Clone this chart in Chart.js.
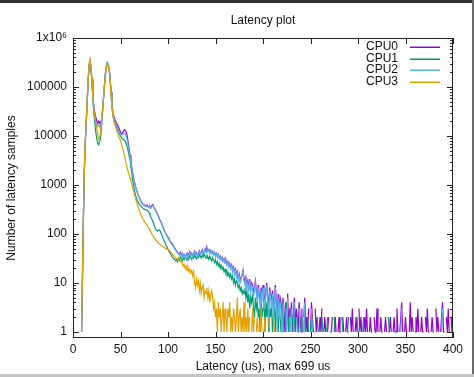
<!DOCTYPE html>
<html>
<head>
<meta charset="utf-8">
<script src="https://cdn.jsdelivr.net/npm/chart.js@4.4.1/dist/chart.umd.min.js"></script>
<style>
  html, body { margin: 0; padding: 0; background: #fff; }
  #wrap { position: relative; width: 474px; height: 377px; overflow: hidden; }
  #topbar { position: absolute; left: 0; top: 0; width: 474px; height: 3px; background: #2e2e2e; }
  #rightline { position: absolute; left: 472px; top: 0; width: 2px; height: 377px; background: #6a6a6a; }
  #bottombar { position: absolute; left: 0; top: 374px; width: 474px; height: 3px; background: #c4c4c4; }
</style>
</head>
<body>
<div id="wrap">
  <canvas id="latencyChart" width="474" height="377"></canvas>
  <div id="topbar"></div>
  <div id="rightline"></div>
  <div id="bottombar"></div>
</div>
<script>
// Số mẫu theo từng bin 1 us (chỉ số = độ trễ, 0..400 us)
const cpu0 = [
  0,0,0,0,0,0,0,0,0,1, 15,250,2200,8000,20000,55000,140000,280000,340000,240000,
  140000,65000,40000,30000,24000,20000,18000,20000,19000,17000, 22000,33000,55000,100000,170000,250000,300000,280000,230000,160000,
  80000,45000,30000,25000,22000,20000,18000,16500,15000,13500, 12000,11000,11500,12500,13500,13000,12000,10000,7500,5500,
  4000,3000,2200,1700,1350,1100,900,780,680,600, 540,490,450,420,400,390,380,370,390,360,
  350,370,340,380,400,350,330,300,280,250, 230,200,185,170,150,135,120,110,100,92,
  85,78,72,68,65,60,55,52,48,45, 42,40,38,42,36,40,35,38,33,36,
  40,34,38,43,37,40,35,39,44,38, 41,36,40,45,39,42,47,40,44,50,
  43,52,45,48,41,46,40,44,38,42, 36,40,34,38,32,35,30,33,28,31,
  26,29,24,27,22,25,20,23,18,21, 16,19,14,17,12,15,11,13,14,18,
  12,10,13,9,11,8,12,7,10,9, 6,8,11,7,5,9,6,4,8,5,
  9,6,4,7,10,5,3,8,6,4, 7,3,5,9,4,2,6,3,5,4,
  2,5,3,1,4,2,6,1,3,2, 4,1,2,5,1,3,2,1,4,2,
  1,3,0,2,5,1,2,1,3,0, 1,4,2,1,0,3,1,2,0,1,
  2,1,3,0,1,2,1,0,1,2, 0,1,1,2,0,1,2,1,0,1,
  2,1,1,0,2,1,0,1,2,1, 1,0,2,1,3,1,0,1,2,1,
  0,3,1,2,1,0,1,2,1,3, 1,0,1,2,1,1,0,2,1,1,
  3,1,0,1,2,1,1,0,1,2, 1,0,1,1,2,1,0,1,2,1,
  1,3,1,0,1,2,4,1,0,1, 2,1,1,0,1,4,1,2,1,0,
  1,2,1,3,1,0,1,2,1,1, 0,2,1,3,1,1,0,1,2,1,
  1,0,3,1,2,1,0,1,2,4, 1,1,0,2,1,3,1,0,2,1,
  5
];
const cpu1 = [
  0,0,0,0,0,0,0,0,0,1, 12,220,2000,7500,19000,52000,135000,270000,330000,220000,
  120000,50000,28000,18000,12000,9000,7000,6600,7500,9000, 15000,28000,52000,100000,180000,260000,310000,290000,240000,160000,
  75000,40000,26000,21000,18000,16000,14500,13000,12000,11000, 10000,9200,8800,8500,8200,7800,7000,6000,5000,4000,
  3200,2300,1700,1200,900,720,600,520,470,430, 400,380,360,340,330,320,315,310,305,290,
  270,250,220,200,180,160,140,125,120,115, 118,120,112,100,90,80,72,65,58,54,
  48,44,41,38,35,33,31,30,28,30, 27,32,29,34,31,28,33,30,35,32,
  29,34,31,36,33,30,35,32,37,34, 31,36,33,38,35,32,37,34,39,35,
  32,37,34,30,35,31,28,33,29,26, 30,24,27,22,25,20,23,19,21,17,
  19,16,18,14,16,13,15,12,14,10, 12,9,11,10,8,9,7,8,6,7,
  6,8,5,7,4,6,3,5,4,6, 3,2,5,3,4,2,3,1,4,2,
  3,5,1,4,2,6,1,3,2,4, 1,2,5,1,3,2,1,4,2,1,
  3,1,2,0,1,4,2,1,3,1, 0,2,1,3,1,0,2,1,1,0,
  2,1,0,1,3,1,0,2,1,0, 1,2,1,0,1,1,0,2,1,0,
  1,0,2,1,0,1,0,1,2,0, 1,0,0,1,0,2,1,0,0,1,
  0,1,0,2,1,0,0,1,0,1, 2,0,1,0,0,1,0,1,0,2,
  1,0,0,1,0,1,2,0,1,0, 0,1,0,1,0,2,0,0,1,0,
  1,0,2,0,1,0,0,1,0,1, 0,0,2,1,0,1,0,0,1,0,
  2,0,1,0,0,1,0,2,0,1, 0,1,0,0,1,0,2,0,1,0,
  0,1,0,1,0,0,2,0,1,0, 1,0,0,1,0,1,0,2,0,0,
  1,0,1,0,0,2,0,1,0,0, 1,0,1,0,0,1,0,0,1,0,
  0
];
const cpu2 = [
  0,0,0,0,0,0,0,0,0,1, 14,240,2100,7800,19500,54000,138000,275000,335000,230000,
  130000,60000,35000,25000,19000,16000,15500,17000,16000,14000, 19000,30000,54000,105000,185000,265000,320000,295000,245000,165000,
  78000,42000,28000,23000,20000,18000,16000,14500,13000,12000, 11000,10500,10500,11000,11500,11000,10000,8500,6500,5000,
  3700,2800,2100,1600,1300,1050,870,760,660,590, 530,480,440,410,395,380,370,360,375,355,
  345,360,335,370,385,340,320,295,270,245, 225,200,180,165,148,132,118,108,98,90,
  83,76,70,66,62,58,54,50,47,44, 41,39,37,40,35,39,34,37,32,35,
  38,33,37,41,36,39,34,38,42,37, 40,35,39,44,38,41,45,39,43,48,
  42,49,44,47,40,45,39,43,37,41, 35,39,33,37,31,34,29,32,27,30,
  25,28,23,26,21,24,19,22,17,20, 15,18,13,16,11,14,10,12,15,17,
  11,9,12,8,10,7,11,6,9,8, 5,7,10,6,4,8,5,3,7,4,
  8,5,3,6,9,4,2,7,5,3, 6,2,4,8,3,1,5,2,4,3,
  1,4,2,0,3,1,5,0,2,1, 3,0,1,4,0,2,1,0,3,1,
  0,2,0,1,4,0,1,0,2,0, 0,3,1,0,0,2,0,1,0,0,
  1,0,2,0,0,1,0,0,0,1, 0,0,1,1,0,0,1,0,0,0,
  1,0,0,0,1,0,0,0,1,0, 0,0,1,0,2,0,0,0,1,0,
  0,2,0,1,0,0,0,1,0,2, 0,0,0,1,0,0,0,1,0,0,
  2,0,0,0,1,0,0,0,0,1, 0,0,0,0,1,0,0,0,1,0,
  0,3,0,0,0,1,3,0,0,0, 1,0,0,0,0,3,0,1,0,0,
  0,1,0,2,0,0,0,1,0,0, 0,1,0,2,0,0,0,0,1,0,
  0,0,2,0,1,0,0,0,1,3, 0,0,0,1,0,2,0,0,1,0,
  0
];
const cpu3 = [
  0,0,0,0,0,0,0,0,0,1, 20,300,2500,9000,22000,60000,150000,300000,370000,250000,
  150000,60000,35000,25000,18000,14000,11000,8500,9000,12000, 20000,32000,55000,100000,170000,240000,290000,270000,220000,150000,
  70000,40000,26000,20000,17000,15000,13000,11500,10000,9000, 8000,7000,5800,5000,4000,3300,2700,2200,1900,1600,
  1400,1200,1000,850,720,620,520,440,380,330, 290,260,235,215,195,180,170,160,150,140,
  128,118,110,100,93,86,80,76,72,68, 64,62,60,58,56,55,53,51,50,49,
  48,46,45,43,40,38,36,34,32,31, 30,33,29,27,30,25,22,24,20,22,
  18,21,17,19,16,18,14,17,10,8, 12,9,11,7,10,6,8,9,5,7,
  6,8,5,7,4,6,7,5,3,4, 2,3,1,4,2,3,1,2,4,1,
  3,2,1,3,2,4,1,2,1,3, 2,1,2,5,1,2,3,1,2,1,
  4,1,2,1,3,1,2,0,1,3, 1,2,0,1,2,1,0,1,3,1,
  0,1,2,0,1,0,2,1,0,1, 0,2,1,0,1,0,1,0,2,0,
  1,0,0,1,0,1,0,0,1,0, 0,1,0,0,0,1,0,0,1,0,
  0,0,1,0,0,0,1,0,0,0, 0,1,0,0,0,0,1,0,0,0,
  0,1,0,0,0,0,0,1,0,0, 0,0,1,0,0,0,0,0,1,0,
  0,0,0,1,0,0,0,0,0,1, 0,0,0,0,1,0,0,0,0,0,
  1,0,0,0,0,0,1,0,0,0, 0,0,1,0,0,0,0,0,0,1,
  0,0,0,0,1,0,0,0,0,0, 1,0,0,0,0,0,0,1,0,0,
  0,0,0,1,0,0,0,0,2,0, 0,0,0,0,0,1,0,0,0,0,
  1,0,0,0,0,0,0,2,0,0, 0,0,1,0,0,0,0,0,0,1,
  0,0,0,0,0,1,0,0,0,0, 2,0,0,0,0,0,1,0,0,0,
  0
];

const seriesNames = ['CPU0', 'CPU1', 'CPU2', 'CPU3'];
const seriesColors = ['#9400d3', '#009e73', '#56b4e9', '#e69f00'];
const xTicks = [0, 50, 100, 150, 200, 250, 300, 350, 400];
const yTicks = [1, 10, 100, 1000, 10000, 100000, 1000000];
const yTickLabels = ['1', '10', '100', '1000', '10000', '100000', '1x10\u2076'];

const FONT = 'Liberation Sans, Arial, sans-serif';
const TEXT = '#111';

// bin rỗng (0) không vẽ được trên thang log
function toPoints(arr) {
    return arr.map((v, i) => ({ x: i, y: v > 0 ? v : null }));
}

// Khung, vạch chia hướng vào trong và chú thích kiểu gnuplot
const gnuplotFrame = {
    id: 'gnuplotFrame',
    afterDatasetsDraw(chart) {
        const { ctx, chartArea: a, scales: { x, y } } = chart;
        ctx.save();
        ctx.strokeStyle = '#222';
        ctx.lineWidth = 1;
        ctx.beginPath();
        xTicks.forEach(v => {
            const px = Math.round(x.getPixelForValue(v)) + 0.5;
            ctx.moveTo(px, a.bottom); ctx.lineTo(px, a.bottom - 6);
            ctx.moveTo(px, a.top); ctx.lineTo(px, a.top + 6);
        });
        yTicks.forEach(v => {
            const py = Math.round(y.getPixelForValue(v)) + 0.5;
            ctx.moveTo(a.left, py); ctx.lineTo(a.left + 6, py);
            ctx.moveTo(a.right, py); ctx.lineTo(a.right - 6, py);
            if (v >= 1000000) return;
            for (let k = 2; k <= 9; k++) {
                const my = Math.round(y.getPixelForValue(v * k)) + 0.5;
                ctx.moveTo(a.left, my); ctx.lineTo(a.left + 3, my);
                ctx.moveTo(a.right, my); ctx.lineTo(a.right - 3, my);
            }
        });
        ctx.stroke();
        ctx.strokeRect(a.left + 0.5, a.top + 0.5, a.right - a.left - 1, a.bottom - a.top - 1);

        // chú thích góc trên bên phải
        ctx.font = '12px ' + FONT;
        ctx.textAlign = 'right';
        ctx.textBaseline = 'middle';
        seriesNames.forEach((name, i) => {
            const yy = Math.round(a.top + 9 + i * 11.7);
            ctx.fillStyle = TEXT;
            ctx.fillText(name, a.right - 55, yy);
            ctx.fillStyle = seriesColors[i];
            ctx.fillRect(a.right - 43, yy - 0.5, 30, 1.5);
        });
        ctx.restore();
    }
};

const allSeries = [cpu0, cpu1, cpu2, cpu3];
const datasets = allSeries.map((arr, i) => ({
    label: seriesNames[i],
    data: toPoints(arr),
    borderColor: seriesColors[i],
    backgroundColor: seriesColors[i],
    borderWidth: 1.2,
    pointRadius: 0,
    tension: 0,
    spanGaps: false,
    order: 3 - i
}));

new Chart(document.getElementById('latencyChart'), {
    type: 'line',
    data: { datasets: datasets },
    options: {
        responsive: false,
        animation: false,
        events: [],
        layout: { padding: { left: 0, right: 21, top: 0, bottom: 3 } },
        plugins: {
            legend: { display: false },
            tooltip: { enabled: false },
            title: {
                display: true,
                text: 'Latency plot',
                fullSize: false,
                color: TEXT,
                font: { family: FONT, size: 12, weight: 'normal' },
                padding: { top: 13, bottom: 10.6 }
            }
        },
        scales: {
            x: {
                type: 'linear',
                min: 0,
                max: 400,
                grid: { display: false, drawTicks: false },
                border: { display: false },
                afterBuildTicks: s => { s.ticks = xTicks.map(v => ({ value: v })); },
                ticks: {
                    color: TEXT,
                    font: { family: FONT, size: 12 },
                    padding: 4,
                    maxRotation: 0,
                    autoSkip: false
                },
                title: {
                    display: true,
                    text: 'Latency (us), max 699 us',
                    color: TEXT,
                    font: { family: FONT, size: 12 },
                    padding: { top: 0, bottom: 0 }
                },
                afterFit: s => { s.height = 36; }
            },
            y: {
                type: 'logarithmic',
                min: 0.75,
                max: 1000000,
                grid: { display: false, drawTicks: false },
                border: { display: false },
                afterBuildTicks: s => { s.ticks = yTicks.map(v => ({ value: v })); },
                ticks: {
                    color: TEXT,
                    font: { family: FONT, size: 12 },
                    padding: 6,
                    autoSkip: false,
                    callback: (val) => {
                        const idx = yTicks.indexOf(val);
                        return idx >= 0 ? yTickLabels[idx] : '';
                    }
                },
                title: {
                    display: true,
                    text: 'Number of latency samples',
                    color: TEXT,
                    font: { family: FONT, size: 12 },
                    padding: { top: 4, bottom: 0 }
                },
                afterFit: s => { s.width = 73; }
            }
        }
    },
    plugins: [gnuplotFrame]
});
</script>
</body>
</html>
